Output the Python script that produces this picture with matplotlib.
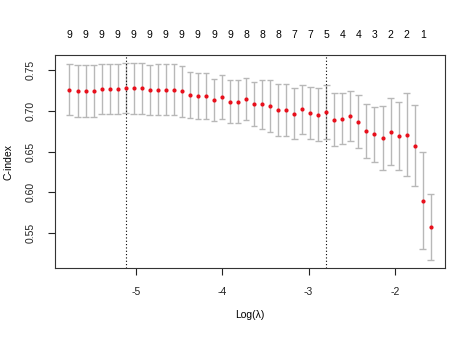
import matplotlib
matplotlib.use("Agg")
import matplotlib.pyplot as plt

plt.rcParams['font.family'] = ['Liberation Sans', 'DejaVu Sans']

# log(lambda) path of the cross-validated fit
log_lambda = [-5.773, -5.680, -5.587, -5.494, -5.401, -5.308, -5.214, -5.121,
              -5.028, -4.935, -4.842, -4.749, -4.656, -4.563, -4.470, -4.377,
              -4.284, -4.190, -4.097, -4.004, -3.911, -3.818, -3.725, -3.632,
              -3.539, -3.446, -3.353, -3.260, -3.166, -3.073, -2.980, -2.887,
              -2.794, -2.701, -2.608, -2.515, -2.422, -2.329, -2.236, -2.142,
              -2.049, -1.956, -1.863, -1.770, -1.677, -1.584]

# mean C-index and its standard error
cvm = [0.7259, 0.7246, 0.7246, 0.7246, 0.7267, 0.7267, 0.7267, 0.7279,
       0.7276, 0.7276, 0.7259, 0.7263, 0.7263, 0.7263, 0.7240, 0.7197,
       0.7181, 0.7181, 0.7129, 0.7167, 0.7112, 0.7112, 0.7145, 0.7083,
       0.7080, 0.7059, 0.7012, 0.7012, 0.6966, 0.7018, 0.6969, 0.6955,
       0.6988, 0.6893, 0.6906, 0.6940, 0.6869, 0.6749, 0.6713, 0.6667,
       0.6743, 0.6694, 0.6707, 0.6575, 0.5897, 0.5574]
cvsd = [0.0315, 0.0315, 0.0315, 0.0315, 0.0310, 0.0310, 0.0310, 0.0310,
        0.0310, 0.0310, 0.0310, 0.0310, 0.0310, 0.0315, 0.0315, 0.0286,
        0.0280, 0.0280, 0.0257, 0.0270, 0.0266, 0.0266, 0.0260, 0.0274,
        0.0300, 0.0317, 0.0317, 0.0317, 0.0315, 0.0306, 0.0319, 0.0327,
        0.0329, 0.0322, 0.0317, 0.0309, 0.0329, 0.0331, 0.0340, 0.0390,
        0.0413, 0.0414, 0.0509, 0.0500, 0.0598, 0.0407]

# number of non-zero coefficients at each lambda
nzero = [9, 9, 9, 9, 9, 9, 9, 9, 9, 9, 9, 9, 9, 9, 9, 9, 9, 9, 9, 9, 9, 9,
         8, 8, 8, 8, 8, 7, 7, 7, 7, 7, 5, 5, 4, 4, 4, 4, 3, 3, 2, 2, 2, 2, 1, 1]

lambda_min = -5.121
lambda_1se = -2.794

xticks = [-5, -4, -3, -2]
yticks = [0.55, 0.60, 0.65, 0.70, 0.75]

fig = plt.figure(figsize=(4.74, 3.38), dpi=100)
ax = fig.add_axes([55 / 474, 1 - 268 / 338, 390 / 474, 213 / 338])

lo = [m - s for m, s in zip(cvm, cvsd)]
hi = [m + s for m, s in zip(cvm, cvsd)]
cap = 0.038
bar_col = '#b8b8b8'
ax.vlines(log_lambda, lo, hi, color=bar_col, lw=1.0, zorder=1)
ax.hlines(lo, [x - cap for x in log_lambda], [x + cap for x in log_lambda],
          color=bar_col, lw=1.0, zorder=1)
ax.hlines(hi, [x - cap for x in log_lambda], [x + cap for x in log_lambda],
          color=bar_col, lw=1.0, zorder=1)
ax.plot(log_lambda, cvm, 'o', color='#e8101c', ms=3.0, mew=0, zorder=3)

ax.axvline(lambda_min, color='black', ls=(0, (1, 2)), lw=0.8, zorder=2)
ax.axvline(lambda_1se, color='black', ls=(0, (1, 2)), lw=0.8, zorder=2)

ax.set_xlim(-5.941, -1.418)
ax.set_ylim(0.507, 0.7687)
ax.set_xticks(xticks)
ax.set_xticklabels([str(t) for t in xticks])
ax.set_yticks(yticks)
ax.set_yticklabels(['%.2f' % t for t in yticks], rotation=90, va='center')
ax.tick_params(direction='out', length=5, width=0.8, labelsize=7.5,
               colors='#222222')
ax.tick_params(axis='x', pad=9)
ax.tick_params(axis='y', pad=9)
for sp in ax.spines.values():
    sp.set_linewidth(0.8)
    sp.set_color('#333333')

for i in range(0, len(log_lambda), 2):
    ax.text(log_lambda[i], 1 + 20 / 213, str(nzero[i]), ha='center',
            va='center', fontsize=7.5, transform=ax.get_xaxis_transform())

ax.set_xlabel('Log(\u03bb)', fontsize=7.5, labelpad=9)
ax.set_ylabel('C-index', fontsize=7.5, labelpad=9)

fig.savefig('out.png', dpi=100)
